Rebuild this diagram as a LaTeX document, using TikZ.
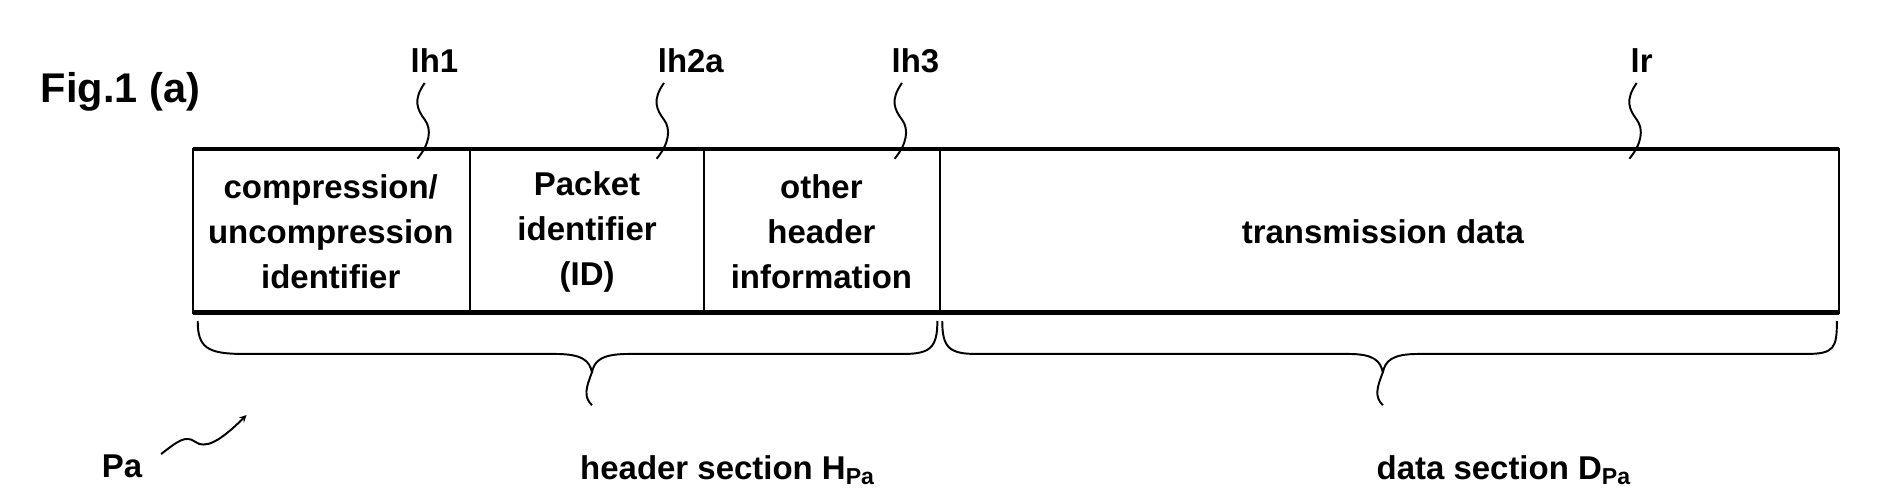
\documentclass[tikz,border=0pt]{standalone}
\usepackage{fontspec}
\setmainfont{Liberation Sans}
\begin{document}
\begin{tikzpicture}[x=1pt,y=-1pt,
  lbl/.style={font=\fontsize{27}{37}\selectfont\bfseries, align=center, inner sep=0},
  sq/.style={line width=1.6pt}]
\useasboundingbox (0,0) rectangle (1560,408);
\node[font=\fontsize{34}{36}\selectfont\bfseries, anchor=west] (fig) at (30,75) {Fig.1 (a)};
% box
\draw[line width=1.8pt] (158,122) rectangle (1507,256);
\draw[line width=3.5pt] (158,122) -- (1507,122);
\draw[line width=3.5pt] (158,256) -- (1507,256);
\foreach \x in {385,577,770} \draw[line width=1.6pt] (\x,122) -- (\x,256);
\node[lbl] (c1) at (271,190) {compression/\\uncompression\\identifier};
\node[lbl] (c2) at (481,190) {Packet\\identifier\\(ID)};
\node[lbl] (c3) at (673,190) {other\\header\\information};
\node[lbl] (c4) at (1133,190) {transmission data};
% labels
\node[lbl] (l1) at (356,50) {lh1};
\node[lbl] (l2) at (566,50) {lh2a};
\node[lbl] (l3) at (750,50) {lh3};
\node[lbl] (l4) at (1345,50) {lr};
\foreach \x in {348,544,739,1341}
  \draw[sq] (\x,68) .. controls (\x-10,82) and (\x-6,90) .. (\x,98) .. controls (\x+6,106) and (\x+4,118) .. (\x-6,130);
% braces
\draw[sq] (162,263) .. controls (162,285) and (170,290) .. (200,290) -- (455,290) .. controls (478,290) and (483,296) .. (485,305)
  .. controls (480,318) and (478,325) .. (485,332);
\draw[sq] (485,305) .. controls (487,296) and (492,290) .. (515,290) -- (740,290) .. controls (762,290) and (768,285) .. (768,263);
\draw[sq] (772,263) .. controls (772,285) and (778,290) .. (800,290) -- (1105,290) .. controls (1126,290) and (1131,296) .. (1133,305)
  .. controls (1128,318) and (1126,325) .. (1133,332);
\draw[sq] (1133,305) .. controls (1135,296) and (1140,290) .. (1162,290) -- (1480,290) .. controls (1503,290) and (1505,285) .. (1505,263);
\node[lbl] (h) at (596,385) {header section H\textsubscript{Pa}};
\node[lbl] (d) at (1232,385) {data section D\textsubscript{Pa}};
\node[lbl] (pa) at (100,382) {Pa};
\coordinate (pae) at (202,340);
\draw[sq,->,>=stealth] (132,372) .. controls (145,362) and (152,356) .. (160,362) .. controls (168,368) and (180,362) .. (pae);
\end{tikzpicture}
\end{document}
